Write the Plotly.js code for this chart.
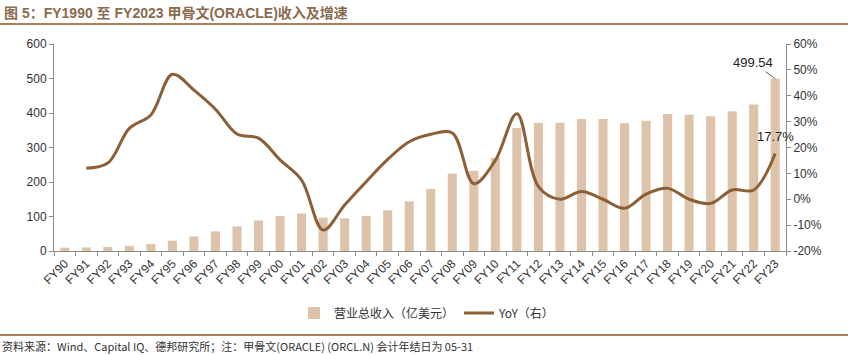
<!DOCTYPE html>
<html>
<head>
<meta charset="utf-8">
<script src="https://cdn.plot.ly/plotly-3.0.1.min.js"></script>
<style>
  html, body { margin: 0; padding: 0; background: #fff; }
  #chart { width: 848px; height: 355px; }
</style>
</head>
<body>
<div id="chart"></div>
<script>
// ---- data ----
const categories = ["FY90","FY91","FY92","FY93","FY94","FY95","FY96","FY97","FY98","FY99",
  "FY00","FY01","FY02","FY03","FY04","FY05","FY06","FY07","FY08","FY09",
  "FY10","FY11","FY12","FY13","FY14","FY15","FY16","FY17","FY18","FY19",
  "FY20","FY21","FY22","FY23"];
// 营业总收入（亿美元）
const revenue = [9.71, 10.28, 11.79, 15.03, 20.01, 29.67, 42.23, 56.84, 71.44, 88.27,
  101.30, 108.60, 96.73, 94.75, 101.56, 117.99, 143.80, 179.96, 224.30, 232.52,
  269.82, 356.22, 371.21, 371.80, 382.75, 382.26, 370.47, 377.28, 397.0, 395.06,
  390.68, 404.79, 424.40, 499.54];
// YoY（%）
const yoy = [null, 12.0, 14.0, 27.4, 32.6, 48.3, 42.2, 34.8, 25.2, 23.6,
  15.2, 7.4, -11.9, -2.2, 6.8, 15.4, 22.2, 25.1, 25.6, 6.0,
  15.0, 33.0, 4.9, 0.0, 3.0, 0.0, -3.5, 2.0, 4.2, 0.0,
  -1.6, 3.6, 3.6, 17.7];
const leftTicks = [0, 100, 200, 300, 400, 500, 600];
const rightTicks = [-20, -10, 0, 10, 20, 30, 40, 50, 60];

const titleText = "图 5：FY1990 至 FY2023 甲骨文(ORACLE)收入及增速";
const sourceText = "资料来源：Wind、Capital IQ、德邦研究所；注：甲骨文(ORACLE) (ORCL.N) 会计年结日为 05-31";
const barName = "营业总收入（亿美元）";
const lineName = "YoY（右）";

// ---- chart ----
const FONT = "Liberation Sans, Arial, Noto Sans CJK SC, sans-serif";
const CJK = "Noto Sans CJK SC, Liberation Sans, sans-serif";
const W = 848, H = 355, ML = 54, MR = 62, MT = 44, MB = 104;
const PW = W - ML - MR, PH = H - MT - MB;
const px = x => (x - ML) / PW;          // pixel x -> paper
const py = y => (H - MB - y) / PH;      // pixel y -> paper

const lastIdx = categories.length - 1;

const traces = [
  {
    type: "bar", x: categories, y: revenue, name: barName,
    marker: { color: "#DCC3A9" }, yaxis: "y", hoverinfo: "skip"
  },
  {
    type: "scatter", mode: "lines", x: categories, y: yoy, name: lineName,
    yaxis: "y2", connectgaps: false,
    line: { color: "#8C5F37", width: 3, shape: "spline", smoothing: 1 },
    hoverinfo: "skip"
  }
];

const axisCommon = {
  showgrid: false, zeroline: false, showline: true, linecolor: "#8c8c8c", linewidth: 1,
  ticks: "outside", ticklen: 4, tickcolor: "#8c8c8c", automargin: false,
  tickfont: { family: FONT, size: 12, color: "#333" }
};

const layout = {
  width: W, height: H,
  margin: { l: ML, r: MR, t: MT, b: MB, pad: 0 },
  paper_bgcolor: "#fff", plot_bgcolor: "#fff",
  font: { family: FONT, size: 12, color: "#333" },
  showlegend: true,
  bargap: 0.58,
  xaxis: Object.assign({}, axisCommon, {
    type: "category", tickson: "boundaries", tickangle: -45,
    range: [-0.5, lastIdx + 0.5]
  }),
  yaxis: Object.assign({}, axisCommon, {
    range: [0, 600], tickvals: leftTicks, ticktext: leftTicks.map(String)
  }),
  yaxis2: Object.assign({}, axisCommon, {
    overlaying: "y", side: "right", range: [-20, 60],
    tickvals: rightTicks, ticktext: rightTicks.map(v => v + "%")
  }),
  legend: {
    orientation: "h", x: px(427), xanchor: "center", y: py(313), yanchor: "middle",
    font: { family: CJK, size: 12, color: "#333" }, itemwidth: 30,
    bgcolor: "rgba(0,0,0,0)", traceorder: "normal"
  },
  shapes: [
    { type: "line", xref: "paper", yref: "paper", x0: px(0), x1: px(W), y0: py(24), y1: py(24),
      line: { color: "#A8825E", width: 2 } },
    { type: "line", xref: "paper", yref: "paper", x0: px(0), x1: px(W), y0: py(335), y1: py(335),
      line: { color: "#A8825E", width: 2 } }
  ],
  annotations: [
    { xref: "paper", yref: "paper", x: px(2), y: py(13), xanchor: "left", yanchor: "middle",
      text: "<b>" + titleText + "</b>", showarrow: false,
      font: { family: FONT, size: 14, color: "#8A6B4E" } },
    { xref: "paper", yref: "paper", x: px(0), y: py(346), xanchor: "left", yanchor: "middle",
      text: sourceText, showarrow: false,
      font: { family: CJK, size: 11, color: "#333" } },
    { x: categories[lastIdx], y: revenue[lastIdx], xref: "x", yref: "y",
      text: revenue[lastIdx].toFixed(2), showarrow: true, arrowhead: 0, arrowwidth: 0.8,
      arrowcolor: "#333", ax: -22, ay: -16, standoff: 0,
      font: { family: FONT, size: 13, color: "#222" } },
    { x: categories[lastIdx], y: yoy[lastIdx], xref: "x", yref: "y2",
      text: yoy[lastIdx].toFixed(1) + "%", showarrow: false, yshift: 17, xshift: 0,
      font: { family: FONT, size: 13, color: "#222" } }
  ]
};

Plotly.newPlot("chart", traces, layout, { staticPlot: true, displayModeBar: false });
</script>
</body>
</html>
